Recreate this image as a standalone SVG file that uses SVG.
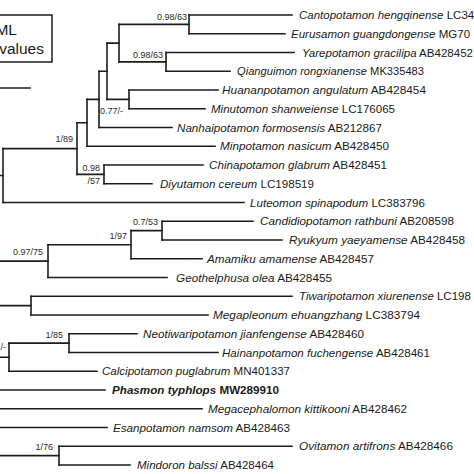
<svg xmlns="http://www.w3.org/2000/svg" width="474" height="474" viewBox="0 0 474 474">
<style>
.br{fill:none;stroke:#1c1c1c;stroke-width:1.6;stroke-linecap:square}
.tx{font-family:"Liberation Sans",Arial,sans-serif;font-size:11.5px;fill:#1a1a1a}
.sp{font-style:italic}
.bs{font-family:"Liberation Sans",Arial,sans-serif;font-size:9px;fill:#2a2a2a;text-anchor:end}
.lg{font-family:"Liberation Sans",Arial,sans-serif;font-size:15.5px;fill:#1a1a1a;text-anchor:end}
</style>
<rect width="474" height="474" fill="#ffffff"/>
<g id="legend">
<rect x="-10" y="15" width="62" height="47" fill="none" stroke="#1c1c1c" stroke-width="1.5"/>
<text class="lg" x="17" y="35">ML</text>
<text class="lg" x="44" y="54">values</text>
</g>
<g id="scalebar"><path class="br" d="M-5 88H30"/></g>
<g id="connectors">
<path class="br" d="M-5 175.5H3M3 148.6H77M3 202.5H244M77 122.8H87M77 174.4H104M87 99.4H99M87 146.25H215M99 71.25H107M99 127.5H172M107 43.1H119M107 99.4H129M119 24.4H189M119 61.9H166M189 15H292M189 33.75H285M166 52.5H294M166 71.25H230M129 90H218M129 108.75H205M104 165H203M104 183.75H152"/>
<path class="br" d="M-5 261.1H48M48 244.7H131M48 277.5H167M131 230.6H162M131 258.75H202M162 221.25H253M162 240H282"/>
<path class="br" d="M-5 305.6H31M31 296.25H292M31 315H208M-5 357.2H9M9 343.1H69M9 371.25H97M69 333.75H137M69 352.5H218M-5 390H105M-5 408.75H202M-5 427.5H107M-5 455.6H59M59 446.25H292M59 465H130"/>
<path class="br" d="M189 15V33.75M166 52.5V71.25M119 24.4V61.9M129 90V108.75M107 43.1V99.4M99 71.25V127.5M87 99.4V146.25M104 165V183.75M77 122.8V174.4M3 148.6V202.5M162 221.25V240M131 230.6V258.75M48 244.7V277.5M31 296.25V315M69 333.75V352.5M9 343.1V371.25M59 446.25V465"/>
</g>
<g id="support">
<text class="bs" x="187" y="20">0.98/63</text>
<text class="bs" x="163" y="58">0.98/63</text>
<text class="bs" x="123" y="114">0.77/-</text>
<text class="bs" x="73" y="142">1/89</text>
<text class="bs" x="100" y="171">0.98</text>
<text class="bs" x="100" y="184">/57</text>
<text class="bs" x="158" y="225">0.7/53</text>
<text class="bs" x="127" y="239">1/97</text>
<text class="bs" x="43" y="255">0.97/75</text>
<text class="bs" x="63" y="338">1/85</text>
<text class="bs" x="6" y="350">/-</text>
<text class="bs" x="53" y="450">1/76</text>
</g>
<g id="n-cantopotamon"><text class="tx" x="299" y="19"><tspan class="sp">Cantopotamon hengqinense</tspan>  LC34</text></g>
<g id="n-eurusamon"><text class="tx" x="291" y="37.75"><tspan class="sp">Eurusamon guangdongense</tspan> MG70</text></g>
<g id="n-yarepotamon"><text class="tx" x="302" y="56.5" textLength="171" lengthAdjust="spacingAndGlyphs"><tspan class="sp">Yarepotamon gracilipa</tspan> AB428452</text></g>
<g id="n-qianguimon"><text class="tx" x="237" y="75.25" textLength="187" lengthAdjust="spacingAndGlyphs"><tspan class="sp">Qianguimon rongxianense</tspan> MK335483</text></g>
<g id="n-huananpotamon"><text class="tx" x="222" y="94" textLength="204" lengthAdjust="spacingAndGlyphs"><tspan class="sp">Huananpotamon angulatum</tspan> AB428454</text></g>
<g id="n-minutomon"><text class="tx" x="211" y="112.75" textLength="184" lengthAdjust="spacingAndGlyphs"><tspan class="sp">Minutomon shanweiense</tspan> LC176065</text></g>
<g id="n-nanhaipotamon"><text class="tx" x="177" y="131.5" textLength="205" lengthAdjust="spacingAndGlyphs"><tspan class="sp">Nanhaipotamon formosensis</tspan> AB212867</text></g>
<g id="n-minpotamon"><text class="tx" x="220" y="150.25" textLength="169" lengthAdjust="spacingAndGlyphs"><tspan class="sp">Minpotamon nasicum</tspan> AB428450</text></g>
<g id="n-chinapotamon"><text class="tx" x="209" y="169" textLength="178" lengthAdjust="spacingAndGlyphs"><tspan class="sp">Chinapotamon glabrum</tspan> AB428451</text></g>
<g id="n-diyutamon"><text class="tx" x="160" y="187.75" textLength="154" lengthAdjust="spacingAndGlyphs"><tspan class="sp">Diyutamon cereum</tspan> LC198519</text></g>
<g id="n-luteomon"><text class="tx" x="250" y="206.5" textLength="175" lengthAdjust="spacingAndGlyphs"><tspan class="sp">Luteomon spinapodum</tspan> LC383796</text></g>
<g id="n-candidiopotamon"><text class="tx" x="260" y="225.25" textLength="194" lengthAdjust="spacingAndGlyphs"><tspan class="sp">Candidiopotamon rathbuni</tspan> AB208598</text></g>
<g id="n-ryukyum"><text class="tx" x="289" y="244" textLength="176" lengthAdjust="spacingAndGlyphs"><tspan class="sp">Ryukyum yaeyamense</tspan> AB428458</text></g>
<g id="n-amamiku"><text class="tx" x="207" y="262.75" textLength="167" lengthAdjust="spacingAndGlyphs"><tspan class="sp">Amamiku amamense</tspan> AB428457</text></g>
<g id="n-geothelphusa"><text class="tx" x="176" y="281.5" textLength="156" lengthAdjust="spacingAndGlyphs"><tspan class="sp">Geothelphusa olea</tspan> AB428455</text></g>
<g id="n-tiwaripotamon"><text class="tx" x="299" y="300.25"><tspan class="sp">Tiwaripotamon xiurenense</tspan> LC198</text></g>
<g id="n-megapleonum"><text class="tx" x="213" y="319" textLength="207" lengthAdjust="spacingAndGlyphs"><tspan class="sp">Megapleonum ehuangzhang</tspan> LC383794</text></g>
<g id="n-neotiwaripotamon"><text class="tx" x="143" y="337.75" textLength="221" lengthAdjust="spacingAndGlyphs"><tspan class="sp">Neotiwaripotamon jianfengense</tspan> AB428460</text></g>
<g id="n-hainanpotamon"><text class="tx" x="222" y="356.5" textLength="208" lengthAdjust="spacingAndGlyphs"><tspan class="sp">Hainanpotamon fuchengense</tspan> AB428461</text></g>
<g id="n-calcipotamon"><text class="tx" x="102" y="375.25" textLength="188" lengthAdjust="spacingAndGlyphs"><tspan class="sp">Calcipotamon puglabrum</tspan> MN401337</text></g>
<g id="n-phasmon"><text class="tx" x="112" y="394" font-weight="bold" textLength="167" lengthAdjust="spacingAndGlyphs"><tspan class="sp">Phasmon typhlops</tspan> MW289910</text></g>
<g id="n-megacephalomon"><text class="tx" x="208" y="412.75" textLength="199" lengthAdjust="spacingAndGlyphs"><tspan class="sp">Megacephalomon kittikooni</tspan> AB428462</text></g>
<g id="n-esanpotamon"><text class="tx" x="113" y="431.5" textLength="177" lengthAdjust="spacingAndGlyphs"><tspan class="sp">Esanpotamon namsom</tspan> AB428463</text></g>
<g id="n-ovitamon"><text class="tx" x="299" y="450.25" textLength="154" lengthAdjust="spacingAndGlyphs"><tspan class="sp">Ovitamon artifrons</tspan> AB428466</text></g>
<g id="n-mindoron"><text class="tx" x="137" y="469" textLength="137" lengthAdjust="spacingAndGlyphs"><tspan class="sp">Mindoron balssi</tspan> AB428464</text></g>
</svg>
